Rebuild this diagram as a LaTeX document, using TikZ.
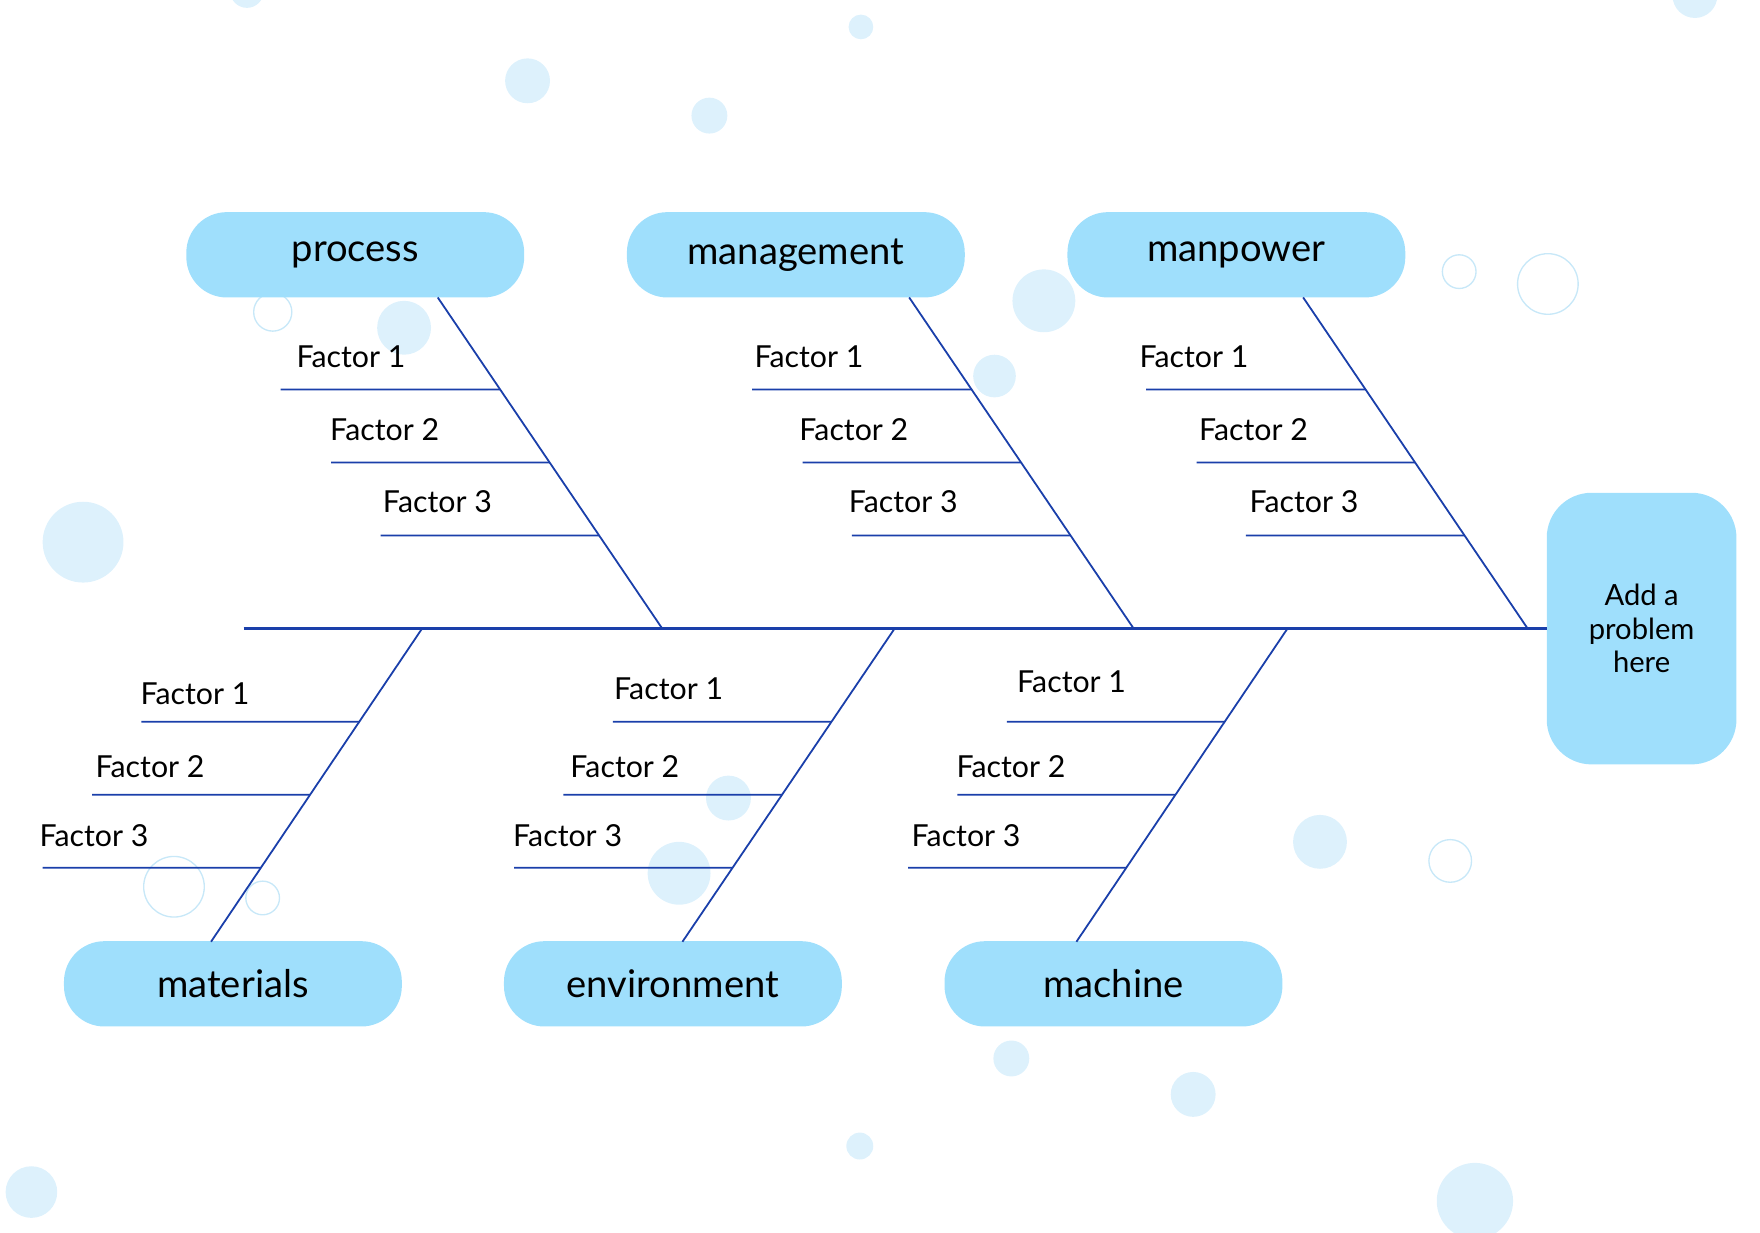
\documentclass[tikz,border=0pt]{standalone}
\usepackage{fontspec}
\setmainfont{Lato}
\usetikzlibrary{calc}
\definecolor{boxc}{HTML}{9FDFFC}
\definecolor{bone}{HTML}{1A3FAA}
\definecolor{bub}{HTML}{DDF1FC}
\definecolor{bubl}{HTML}{C8E8F8}
\begin{document}
\begin{tikzpicture}[x=1pt,y=-1pt,
  cat/.style={fill=boxc,rounded corners=36pt,minimum width=301pt,minimum height=76pt,inner sep=0pt,font=\fontsize{34}{40}\selectfont},
  bonel/.style={draw=bone,line width=1.6pt},
  fac/.style={anchor=base west,inner sep=0pt,font=\fontsize{27}{32}\selectfont},
  bf/.style={fill=bub},
  bo/.style={draw=bubl,line width=1.2pt}]
\useasboundingbox (0,0) rectangle (1568,1098);
% bubbles
\foreach \x/\y/\r in {470/72/20,767/24/11,632/103/16,930/268/28,360/292/24,886/335/19,74/483/36,649/711/20,605/778/28,1176/750/24,901/943/16,1063/975/20,766/1021/12,28/1062/23,1314/1070/34,220/-8/15,1510/-4/20}
  \fill[bf] (\x,\y) circle (\r);
\foreach \x/\y/\r in {243/278/17,1300/242/15,1379/253/27,155/790/27,234/800/15,1292/767/19}
  \draw[bo] (\x,\y) circle (\r);
% spine
\node[fill=boxc,rounded corners=40pt,minimum width=169pt,minimum height=242pt,inner sep=0pt,align=center,font=\fontsize{26}{30}\selectfont] (prob) at (1462.5,560) {Add a\\problem\\here};
\coordinate (tail) at (217,560);
\draw[draw=bone,line width=3pt] (tail) -- (prob.west);
% top categories
\node[cat] (process) at (316.5,227) {process};
\node[cat] (management) at (709,227) {management};
\node[cat] (manpower) at (1101.5,227) {manpower};
\node[cat] (materials) at (207.5,876.5) {materials};
\node[cat] (environment) at (599.5,876.5) {environment};
\node[cat] (machine) at (992,876.5) {machine};
% top bones
\foreach \n/\bx/\sx/\la/\lb/\lc/\ta/\tb/\tc in {process/390/590/250/295/339/264/294/341, management/810/1010/670/715/759/672/712/756, manpower/1161/1361/1021/1066/1110/1015/1068/1113}{
  \coordinate (\n-s) at (\bx,265);
  \coordinate (\n-e) at (\sx,560);
  \draw[bonel] (\n-s) -- (\n-e);
  \foreach \yy/\lx/\tx/\k in {347/\la/\ta/1,412/\lb/\tb/2,477/\lc/\tc/3}{
    \coordinate (\n-a\k) at (\lx,\yy);
    \draw[bonel] (\n-a\k) -- ($(\n-s)!{(\yy-265)/295}!(\n-e)$);
    \node[fac] (\n-t\k) at (\tx,\yy-20) {Factor \k};
  }
}
% bottom bones
\foreach \n/\bx/\sx/\la/\lb/\lc/\ta/\tb/\tc/\ya in {materials/188/376/126/82/38/125/85/35/628, environment/608/797/546/502/458/547/508/457/623, machine/959/1147/897/853/809/906/852/812/617}{
  \coordinate (\n-s) at (\bx,839);
  \coordinate (\n-e) at (\sx,560);
  \draw[bonel] (\n-s) -- (\n-e);
  \foreach \yy/\lx/\tx/\k/\ty in {643/\la/\ta/1/\ya,708/\lb/\tb/2/693,773/\lc/\tc/3/754}{
    \coordinate (\n-a\k) at (\lx,\yy);
    \draw[bonel] (\n-a\k) -- ($(\n-e)!{(\yy-560)/279}!(\n-s)$);
    \node[fac] (\n-t\k) at (\tx,\ty) {Factor \k};
  }
}
\end{tikzpicture}
\end{document}
